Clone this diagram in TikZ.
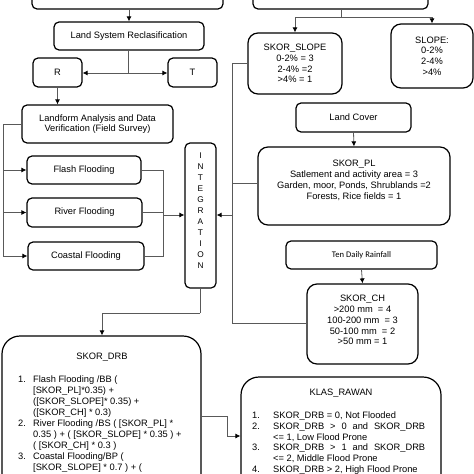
\documentclass[tikz,border=0pt]{standalone}
\usepackage{fontspec}
\setmainfont{Liberation Sans}
\newfontfamily\calib{Carlito}
\usetikzlibrary{arrows.meta}
\newcommand{\fs}{\fontsize{9.3}{10.8}\selectfont}
\begin{document}
\begin{tikzpicture}[x=1pt,y=-1pt,
  box/.style={draw=black, line width=1.2pt, rounded corners=5pt, inner sep=0pt, align=center, font=\fs},
  rbox/.style={box, rounded corners=10pt},
  bbox/.style={box, rounded corners=18pt},
  txt/.style={inner sep=0pt, align=center, font=\fs},
  conn/.style={draw=black!65, line width=0.8pt},
  arr/.style={conn, -{Latex[length=5pt,width=5pt,color=black]}}]
\useasboundingbox (0,0) rectangle (474,474);
\fill[white] (0,0) rectangle (474,474);
% boxes
\node[box, minimum width=191pt, minimum height=29pt] (topl) at (127.5,-5.5) {};
\node[box, minimum width=175pt, minimum height=29pt] (topr) at (340.5,-5.5) {};
\node[box, minimum width=150pt, minimum height=28pt] (lsr) at (129,36) {Land System Reclasification};
\node[box, minimum width=49pt, minimum height=29pt] (r) at (57.5,72.5) {R};
\node[box, minimum width=49pt, minimum height=29pt] (t) at (192.5,72.5) {T};
\node[box, minimum width=151pt, minimum height=38pt] (lf) at (97.5,124) {Landform Analysis and Data\\Verification (Field Survey)};
\node[box, minimum width=114pt, minimum height=28pt] (ff) at (84,170) {Flash Flooding};
\node[box, minimum width=115pt, minimum height=29pt] (rf) at (84.5,212.5) {River Flooding};
\node[box, minimum width=116pt, minimum height=28pt] (cf) at (86,256) {Coastal Flooding};
\node[box, minimum width=31pt, minimum height=145pt] (integ) at (200.5,215.5) {};
\node[txt, font=\fontsize{8.3}{11}\selectfont] (integtxt) at (200.5,211) {I\\N\\T\\E\\G\\R\\A\\T\\I\\O\\N};
\node[rbox, minimum width=94pt, minimum height=61pt] (sslope) at (295,63.5) {SKOR\_SLOPE\\0-2\% = 3\\2-4\% =2\\>4\% = 1};
\node[rbox, minimum width=82pt, minimum height=64pt] (slope) at (432,56) {SLOPE:\\0-2\%\\2-4\%\\>4\%};
\node[box, minimum width=115pt, minimum height=29pt] (lc) at (353.5,117.5) {Land Cover};
\node[rbox, minimum width=192pt, minimum height=78pt] (spl) at (354,186) {};
\node[txt] (spltxt) at (354,180.5) {SKOR\_PL\\Satlement and activity area = 3\\Garden, moor, Ponds, Shrublands =2\\Forests, Rice fields = 1};
\node[box, minimum width=151pt, minimum height=28pt, font=\calib\fontsize{8.6}{10}\selectfont] (tdr) at (361.5,255) {Ten Daily Rainfall};
\node[rbox, minimum width=111pt, minimum height=80pt] (sch) at (362.5,324) {};
\node[txt] (schtxt) at (362.5,320) {SKOR\_CH\\>200 mm~ = 4\\100-200 mm~ = 3\\50-100 mm~ = 2\\>50 mm = 1};
\node[bbox, minimum width=199pt, minimum height=164pt] (sdrb) at (101.5,418) {};
\node[txt] (sdrbt) at (102,357) {SKOR\_DRB};
\node[inner sep=0pt, anchor=north west, font=\fontsize{9.3}{11}\selectfont] (sdrbl) at (18,375) {%
\begin{tabular}{@{}p{15pt}@{}l@{}}
1. & Flash Flooding /BB ( \\
 & [SKOR\_PL]*0.35) + \\
 & ([SKOR\_SLOPE]* 0.35) + \\
 & ([SKOR\_CH] * 0.3) \\
2. & River Flooding /BS ( [SKOR\_PL] * \\
 & 0.35 ) + ( [SKOR\_SLOPE] * 0.35 ) + \\
 & ( [SKOR\_CH] * 0.3 ) \\
3. & Coastal Flooding/BP ( \\
 & [SKOR\_SLOPE] * 0.7 ) + ( \\
\end{tabular}};
\node[bbox, minimum width=200pt, minimum height=123pt] (klas) at (341,438.5) {};
\node[txt] (klast) at (341,393) {KLAS\_RAWAN};
\node[inner sep=0pt, anchor=north west, font=\fontsize{9.3}{10.7}\selectfont] (klasl) at (252,411) {%
\begin{tabular}{@{}p{21pt}@{}l@{}}
1. & SKOR\_DRB = 0, Not Flooded \\
2. & \makebox[152pt][s]{SKOR\_DRB > 0 and SKOR\_DRB} \\
 & <= 1, Low Flood Prone \\
3. & \makebox[152pt][s]{SKOR\_DRB > 1 and SKOR\_DRB} \\
 & <= 2, Middle Flood Prone \\
4. & SKOR\_DRB > 2, High Flood Prone \\
\end{tabular}};
% connectors
\draw[arr] (lsr.north |- topl.south) -- (lsr.north);
\coordinate (lsj) at (128,73);
\draw[conn] (lsr.south -| lsj) -- (lsj);
\draw[arr] (lsj) -- (r.east |- lsj);
\draw[arr] (lsj) -- (t.west |- lsj);
\draw[arr] (r.south) -- (r.south |- lf.north);
\coordinate (lv) at (3,124);
\draw[conn] (lf.west) -- (lv) -- (lv |- cf.west);
\draw[arr] (lv |- ff.west) -- (ff.west);
\draw[arr] (lv |- rf.west) -- (rf.west);
\draw[arr] (lv |- cf.west) -- (cf.west);
\coordinate (mj) at (163,215);
\draw[conn] (ff.east) -| (mj);
\draw[conn] (cf.east) -| (mj);
\draw[conn] (rf.east) -- (rf.east -| mj);
\draw[arr] (mj) -- (integ.west |- mj);
\coordinate (tr) at (341,17);
\draw[conn] (topr.south -| tr) -- (tr);
\draw[arr] (tr) -| (sslope.north);
\draw[arr] (tr) -| (slope.north);
\draw[arr] (lc.south) -- (spl.north);
\draw[arr] (tdr.south) -- (sch.north);
\coordinate (rv) at (232,63);
\draw[conn] (sslope.west |- rv) -- (rv) |- (sch.west |- 0,323);
\draw[conn] (232,183) -- (spl.west |- 0,183);
\draw[arr] (232,215) -- (integ.east |- 0,215);
\coordinate (ib) at (200,313);
\draw[conn] (integ.south -| ib) -- (ib);
\draw[arr] (ib) -| (sdrb.north -| 102,0);
\coordinate (db) at (227,416);
\draw[conn] (sdrb.east |- db) -- (db);
\draw[arr] (db) |- (klas.west |- 0,436);
\end{tikzpicture}
\end{document}
